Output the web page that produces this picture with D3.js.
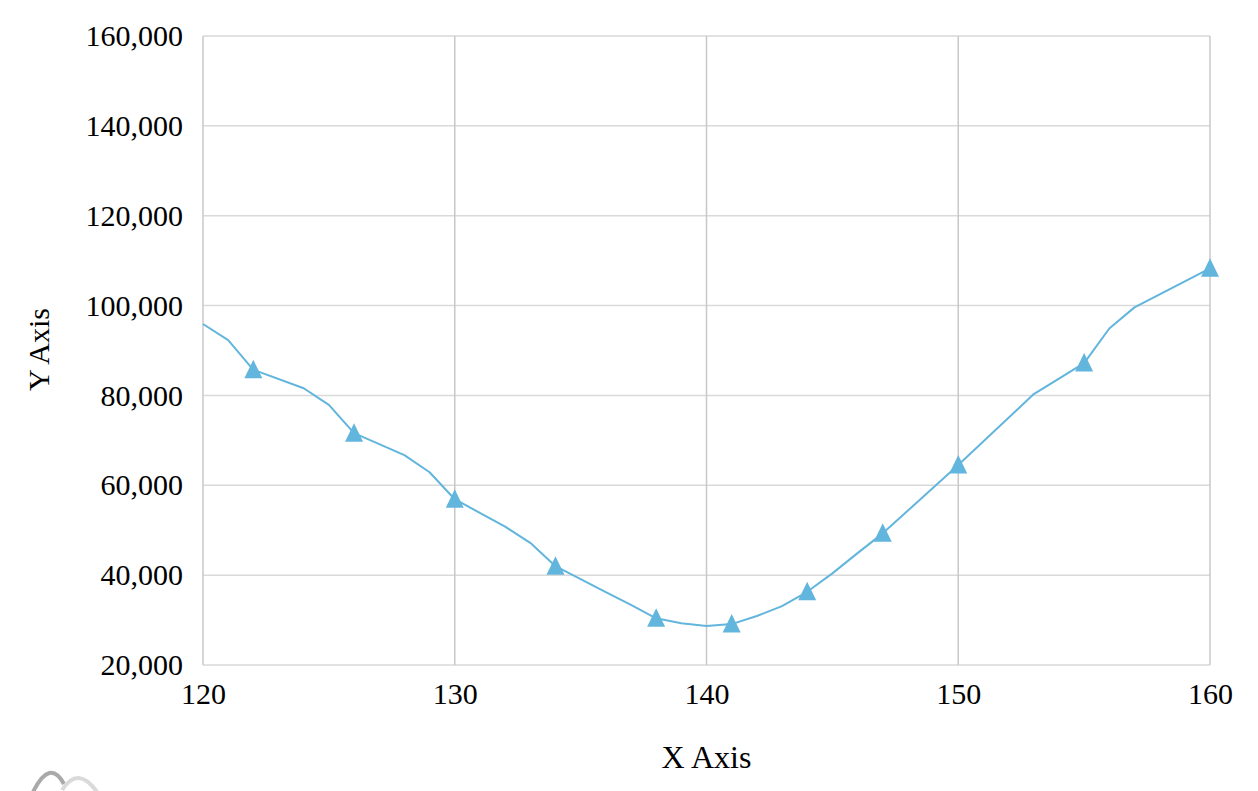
<!DOCTYPE html>
<html>
<head>
<meta charset="utf-8">
<script src="https://cdn.jsdelivr.net/npm/d3@7"></script>
<style>
  html, body { margin: 0; padding: 0; background: #fff; }
  svg { display: block; }
  text { font-family: "Liberation Serif", "Times New Roman", serif; fill: #000; }
</style>
</head>
<body>
<svg id="chart" width="1258" height="791"></svg>
<script>
// ---- data ----
const xValues = [120, 121, 122, 124, 125, 126, 128, 129, 130, 132, 133, 134, 136, 137, 138, 139, 140, 141, 142, 143, 144, 145, 146, 147, 150, 153, 155, 156, 157, 160];
const yValues = [95900, 92300, 85700, 81600, 77900, 71600, 66700, 62900, 56900, 50800, 47200, 42000, 36200, 33400, 30400, 29300, 28700, 29100, 30900, 33100, 36300, 40400, 44900, 49300, 64500, 80300, 87200, 94900, 99600, 108300];
const markerX = [122, 126, 130, 134, 138, 141, 144, 147, 150, 155, 160];
const xTicks = [120, 130, 140, 150, 160];
const yTicks = [20000, 40000, 60000, 80000, 100000, 120000, 140000, 160000];
const xTitle = "X Axis";
const yTitle = "Y Axis";

const points = xValues.map((x, i) => ({ x, y: yValues[i] }));
const markerPoints = points.filter(p => markerX.includes(p.x));

// ---- layout ----
const svg = d3.select("#chart");
const plotLeft = 203, plotRight = 1210, plotTop = 36, plotBottom = 665;
const xs = d3.scaleLinear().domain([120, 160]).range([plotLeft, plotRight]);
const ys = d3.scaleLinear().domain([20000, 160000]).range([plotBottom, plotTop]);
const lineColor = "#62b5dc";

// horizontal gridlines
svg.append("g").selectAll("line").data(yTicks).join("line")
  .attr("x1", plotLeft).attr("x2", plotRight)
  .attr("y1", d => ys(d)).attr("y2", d => ys(d))
  .attr("stroke", "#d9d9d9").attr("stroke-width", 1.5);

// vertical gridlines
svg.append("g").selectAll("line").data(xTicks).join("line")
  .attr("x1", d => xs(d)).attr("x2", d => xs(d))
  .attr("y1", plotTop).attr("y2", plotBottom)
  .attr("stroke", "#c8c8c8").attr("stroke-width", 1.5);

// axes (labels only)
const yAxis = d3.axisLeft(ys).tickValues(yTicks).tickSize(0).tickPadding(20)
  .tickFormat(d3.format(","));
const gy = svg.append("g").attr("transform", `translate(${plotLeft},0)`).call(yAxis);
gy.select(".domain").remove();
gy.selectAll("text").attr("font-size", 30).attr("font-family", "Liberation Serif").attr("fill", "#000");

const xAxis = d3.axisBottom(xs).tickValues(xTicks).tickSize(0).tickPadding(18)
  .tickFormat(d3.format("d"));
const gx = svg.append("g").attr("transform", `translate(0,${plotBottom})`).call(xAxis);
gx.select(".domain").remove();
gx.selectAll("text").attr("font-size", 30).attr("font-family", "Liberation Serif").attr("fill", "#000");

// axis titles
svg.append("text")
  .attr("x", (plotLeft + plotRight) / 2).attr("y", 768)
  .attr("text-anchor", "middle").attr("font-size", 32)
  .text(xTitle);
svg.append("text")
  .attr("transform", `translate(49,${(plotTop + plotBottom) / 2 - 1}) rotate(-90)`)
  .attr("text-anchor", "middle").attr("font-size", 30)
  .text(yTitle);

// line
const line = d3.line().x(d => xs(d.x)).y(d => ys(d.y));
svg.append("path").datum(points)
  .attr("d", line)
  .attr("fill", "none").attr("stroke", lineColor).attr("stroke-width", 2)
  .attr("stroke-linejoin", "round");

// markers
svg.append("g").selectAll("path").data(markerPoints).join("path")
  .attr("transform", d => `translate(${xs(d.x)},${ys(d.y)})`)
  .attr("d", "M0,-10 L9,8.5 L-9,8.5 Z")
  .attr("fill", lineColor);

// logo watermark (bottom-left)
svg.append("path")
  .attr("d", "M33,792 Q50,758 64,784")
  .attr("fill", "none").attr("stroke", "#a9a9a9").attr("stroke-width", 4);
svg.append("path")
  .attr("d", "M62,790 Q78,765 97,792")
  .attr("fill", "none").attr("stroke", "#dadada").attr("stroke-width", 4);
</script>
</body>
</html>
